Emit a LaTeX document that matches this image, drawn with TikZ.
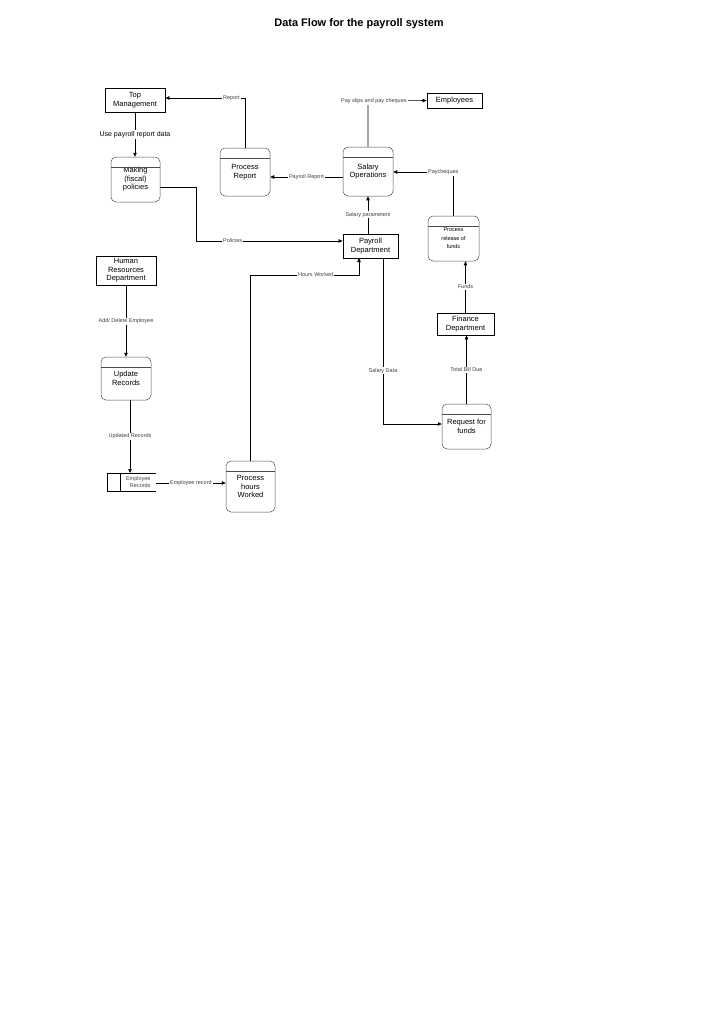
\documentclass[tikz,border=0pt]{standalone}
\usepackage{fontspec}
\setmainfont{Liberation Sans}
\usetikzlibrary{arrows.meta}
\begin{document}
\begin{tikzpicture}[x=1pt,y=-1pt,
  ent/.style={draw,line width=0.8pt,align=center,font=\fontsize{7.5}{8.5}\selectfont,inner sep=0pt},
  proc/.style={draw=black!70,rounded corners=5pt,line width=0.5pt,align=center,font=\fontsize{7.5}{8.5}\selectfont,inner sep=0pt},
  lab/.style={fill=white,inner sep=1pt,font=\fontsize{5.5}{6.5}\selectfont,text=black!75},
  fl/.style={-{Triangle[length=4pt,width=3.5pt]},line width=0.6pt}]
\useasboundingbox (0,0) rectangle (719,1017);
\node[font=\bfseries\fontsize{11}{13}\selectfont] (title) at (359,24) {Data Flow for the payroll system};
% entities
\node[ent,minimum width=60pt,minimum height=24pt] (tm) at (135,100) {Top\\Management};
\node[ent,minimum width=55pt,minimum height=15pt] (emp) at (454.5,100.5) {Employees};
\node[ent,minimum width=55pt,minimum height=24pt] (pay) at (370.5,246) {Payroll\\Department};
\node[ent,minimum width=60pt,minimum height=29pt] (hr) at (126,270.5) {Human\\Resources\\Department};
\node[ent,minimum width=57pt,minimum height=22pt] (fin) at (465.5,324) {Finance\\Department};
% processes
\newcommand{\procbox}[6]{%
  \node[proc,minimum width=#4pt,minimum height=#5pt] (#1) at (#2,#3) {#6};
  \draw[black!70,line width=0.5pt] ([yshift=-10pt]#1.north west) -- ([yshift=-10pt]#1.north east);}
\procbox{mak}{135.5}{179.5}{49}{45}{\raisebox{3pt}{}Making\\(fiscal)\\policies}
\procbox{prep}{245}{172}{50}{48}{Process\\Report}
\procbox{sal}{368}{171.5}{50}{49}{Salary\\Operations}
\procbox{rel}{453.5}{238.5}{51}{45}{\fontsize{5.5}{8}\selectfont Process\\\fontsize{5.5}{8}\selectfont release of\\\fontsize{5.5}{8}\selectfont funds}
\procbox{upd}{126}{378.5}{50}{43}{Update\\Records}
\procbox{req}{466.5}{426.5}{49}{45}{Request for\\funds}
\procbox{phw}{250.5}{486.5}{49}{51}{Process\\hours\\Worked}
% data store
\coordinate (er) at (131.5,482);
\draw[line width=0.6pt] (156,473) -- (107,473) -- (107,491) -- (156,491) (120,473) -- (120,491);
\node[font=\fontsize{5.5}{7}\selectfont,text=black!75,align=right,anchor=east] (ers) at (154,482) {Employee\\Records};
\coordinate (ere) at (156,483);
% flows
\draw[fl] (prep.north) -- (245,98) -- node[lab,pos=0.17]{Report} (tm.east |- 0,98);
\draw[fl] (tm.south) -- node[lab,font=\fontsize{7}{8}\selectfont,text=black]{Use payroll report data} (mak.north -| tm.south);
\draw[fl] (160,187) -- (196,187) -- (196,241) -- node[lab,pos=0.25]{Policies} (pay.west |- 0,241);
\draw[fl] (sal.west |- 0,177) -- node[lab]{Payroll Report} (prep.east |- 0,177);
\draw[fl] (sal.north) -- (368,101) -- node[lab,pos=0.1]{Pay slips and pay cheques} (emp.west);
\draw[fl] (pay.north -| sal.north) -- node[lab]{Salary parameters} (sal.south);
\draw[fl] (rel.north) -- (453.5,172) -- node[lab,pos=0.17]{Paycheques} (sal.east |- 0,172);
\draw[fl] (fin.north) -- node[lab]{Funds} (rel.south -| fin.north);
\draw[fl] (req.north) -- node[lab]{Total Bill Due} (fin.south -| req.north);
\draw[fl] (383,258) -- node[lab,pos=0.68]{Salary Data} (383,424) -- (req.west |- 0,424);
\draw[fl] (hr.south) -- node[lab]{Add/ Delete Employee} (upd.north);
\draw[fl] (130,400) -- node[lab]{Updated Records} (130,473);
\draw[fl] (ere) -- node[lab]{Employee record} (phw.west |- ere);
\draw[fl] (phw.north) -- (250.5,275) -- node[lab,pos=0.6]{Hours Worked} (359,275) -- (359,258);
\end{tikzpicture}
\end{document}
